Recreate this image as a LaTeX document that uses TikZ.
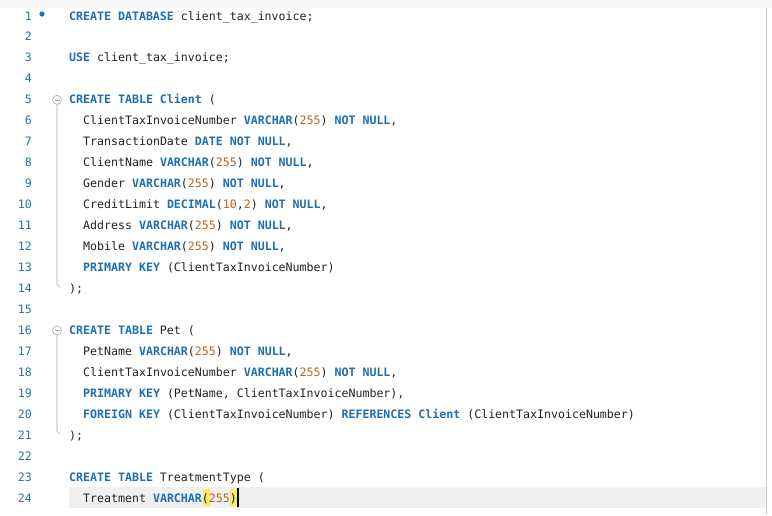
\documentclass[tikz,border=0pt]{standalone}
\usepackage{fontspec}
\setmonofont{DejaVu Sans Mono}
\definecolor{kw}{HTML}{1F6FB0}
\definecolor{num}{HTML}{B5651D}
\definecolor{ln}{HTML}{237893}
\definecolor{txt}{HTML}{222222}
\newcommand{\kw}[1]{\textcolor{kw}{\textbf{#1}}}
\newcommand{\nm}[1]{\textcolor{num}{#1}}
\tikzset{code/.style={anchor=base west,inner sep=0pt,font=\ttfamily\fontsize{11.6}{12}\selectfont,text=txt},
lnum/.style={anchor=base east,inner sep=0pt,font=\ttfamily\fontsize{11.6}{12}\selectfont,text=ln},
fold/.style={draw=gray!70,line width=0.6pt}}
\begin{document}
\begin{tikzpicture}[x=1pt,y=-1pt]
\useasboundingbox (0,0) rectangle (772,515);
\fill[gray!8] (0,0) rectangle (772,8);
\draw[gray!40] (766,8) -- (766,515);
\fill[gray!12] (69,487) rectangle (766,508);
\newcommand{\yy}[1]{20+(#1-1)*20.96}
\foreach \i in {1,...,24}{\node[lnum] (n\i) at (32,{\yy{\i}}) {\i};}
\fill[kw] (42,14) circle (2.6);
\node[code] (l1) at (69,{\yy{1}}) {\kw{CREATE DATABASE} client\_tax\_invoice;};
\node[code] (l3) at (69,{\yy{3}}) {\kw{USE} client\_tax\_invoice;};
\node[code] (l5) at (69,{\yy{5}}) {\kw{CREATE TABLE} \kw{Client} (};
\node[code] (l6) at (83,{\yy{6}}) {ClientTaxInvoiceNumber \kw{VARCHAR}(\nm{255}) \kw{NOT NULL},};
\node[code] (l7) at (83,{\yy{7}}) {TransactionDate \kw{DATE NOT NULL},};
\node[code] (l8) at (83,{\yy{8}}) {ClientName \kw{VARCHAR}(\nm{255}) \kw{NOT NULL},};
\node[code] (l9) at (83,{\yy{9}}) {Gender \kw{VARCHAR}(\nm{255}) \kw{NOT NULL},};
\node[code] (l10) at (83,{\yy{10}}) {CreditLimit \kw{DECIMAL}(\nm{10},\nm{2}) \kw{NOT NULL},};
\node[code] (l11) at (83,{\yy{11}}) {Address \kw{VARCHAR}(\nm{255}) \kw{NOT NULL},};
\node[code] (l12) at (83,{\yy{12}}) {Mobile \kw{VARCHAR}(\nm{255}) \kw{NOT NULL},};
\node[code] (l13) at (83,{\yy{13}}) {\kw{PRIMARY KEY} (ClientTaxInvoiceNumber)};
\node[code] (l14) at (69,{\yy{14}}) {);};
\node[code] (l16) at (69,{\yy{16}}) {\kw{CREATE TABLE} Pet (};
\node[code] (l17) at (83,{\yy{17}}) {PetName \kw{VARCHAR}(\nm{255}) \kw{NOT NULL},};
\node[code] (l18) at (83,{\yy{18}}) {ClientTaxInvoiceNumber \kw{VARCHAR}(\nm{255}) \kw{NOT NULL},};
\node[code] (l19) at (83,{\yy{19}}) {\kw{PRIMARY KEY} (PetName, ClientTaxInvoiceNumber),};
\node[code] (l20) at (83,{\yy{20}}) {\kw{FOREIGN KEY} (ClientTaxInvoiceNumber) \kw{REFERENCES} \kw{Client} (ClientTaxInvoiceNumber)};
\node[code] (l21) at (69,{\yy{21}}) {);};
\node[code] (l23) at (69,{\yy{23}}) {\kw{CREATE TABLE} TreatmentType (};
\fill[yellow!80!orange!60] (202.5,489) rectangle (209.5,506);
\fill[yellow!80!orange!60] (230,489) rectangle (237,506);
\node[code] (l24) at (83,{\yy{24}}) {Treatment \kw{VARCHAR}(\nm{255})};
\fill[black] (237,488) rectangle (239,507);
\foreach \n/\e in {5/14,16/21}{
 \draw[fold] (57,{\yy{\n}-4}) circle (4.5);
 \draw[fold] (54.5,{\yy{\n}-4}) -- (59.5,{\yy{\n}-4});
 \draw[fold] (57,{\yy{\n}+0.5}) -- (57,{\yy{\e}-8}) -- (60,{\yy{\e}-5});
}
\end{tikzpicture}
\end{document}
